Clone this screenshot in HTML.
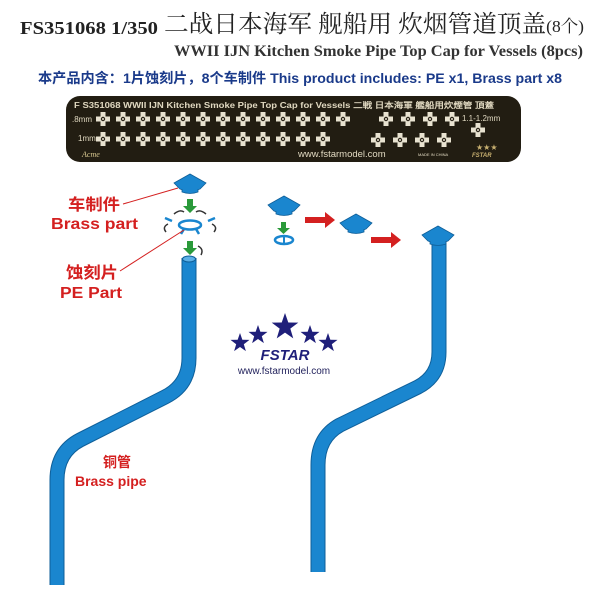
<!DOCTYPE html>
<html><head><meta charset="utf-8"><style>
body{margin:0;width:600px;height:600px;background:#fff;overflow:hidden}
svg{display:block}
</style></head><body>
<svg width="600" height="600" viewBox="0 0 600 600" xmlns="http://www.w3.org/2000/svg">
<defs>
<g id="cr"><path d="M-2.5,-7h5v4.5h4.5v5h-4.5v4.5h-5v-4.5h-4.5v-5h4.5z" fill="#e8e2d0"/><circle r="2.2" fill="#2a2418"/><circle r="1" fill="#e8e2d0"/></g>
<g id="cap"><path d="M-16,0 L0,-9 L16,0 L10,6 Q0,10 -10,6 Z" fill="#1a86cf" stroke="#0f5f99" stroke-width="0.8"/><path d="M-8,6 L-8,9 Q0,12 8,9 L8,6" fill="#1a86cf" stroke="#0f5f99" stroke-width="0.8"/></g>
<g id="star"><path d="M0,-10 L2.35,-3.2 9.5,-3.1 3.8,1.2 5.9,8.1 0,4 -5.9,8.1 -3.8,1.2 -9.5,-3.1 -2.35,-3.2Z" fill="#1f1f7a"/></g>
</defs>
<text x="20" y="34" textLength="138" lengthAdjust="spacingAndGlyphs" font-family="Liberation Serif,serif" font-weight="bold" font-size="18" fill="#222">FS351068 1/350</text>
<text x="164" y="32" textLength="420" lengthAdjust="spacingAndGlyphs" font-family="Liberation Serif,'Noto Serif CJK SC',serif" font-size="24" fill="#222">二战日本海军 舰船用 炊烟管道顶盖<tspan font-size="17">(8个)</tspan></text>
<text x="174" y="56" textLength="409" lengthAdjust="spacingAndGlyphs" font-family="Liberation Serif,serif" font-weight="bold" font-size="16" fill="#333">WWII IJN Kitchen Smoke Pipe Top Cap for Vessels (8pcs)</text>
<text x="38" y="83" textLength="524" lengthAdjust="spacingAndGlyphs" font-family="Liberation Sans,'Noto Sans CJK SC',sans-serif" font-weight="bold" font-size="14" fill="#1a3a8a">本产品内含：1片蚀刻片，8个车制件 This product includes: PE x1, Brass part x8</text>
<rect x="66" y="96" width="455" height="66" rx="14" fill="#221d12"/>
<text x="74" y="108" textLength="420" lengthAdjust="spacingAndGlyphs" font-family="Liberation Sans,sans-serif" font-weight="bold" font-size="8" fill="#e0d8c0">F S351068 WWII IJN Kitchen Smoke Pipe Top Cap for Vessels 二戦 日本海軍 艦船用炊煙管 頂蓋</text>
<text x="72" y="122" font-family="Liberation Sans,sans-serif" font-size="8" fill="#e0d8c0">.8mm</text>
<text x="78" y="141" font-family="Liberation Sans,sans-serif" font-size="8" fill="#e0d8c0">1mm</text>
<g>
<use href="#cr" x="103" y="119"/><use href="#cr" x="123" y="119"/><use href="#cr" x="143" y="119"/><use href="#cr" x="163" y="119"/><use href="#cr" x="183" y="119"/><use href="#cr" x="203" y="119"/><use href="#cr" x="223" y="119"/><use href="#cr" x="243" y="119"/><use href="#cr" x="263" y="119"/><use href="#cr" x="283" y="119"/><use href="#cr" x="303" y="119"/><use href="#cr" x="323" y="119"/><use href="#cr" x="343" y="119"/>
<use href="#cr" x="386" y="119"/><use href="#cr" x="408" y="119"/><use href="#cr" x="430" y="119"/><use href="#cr" x="452" y="119"/>
<use href="#cr" x="103" y="139"/><use href="#cr" x="123" y="139"/><use href="#cr" x="143" y="139"/><use href="#cr" x="163" y="139"/><use href="#cr" x="183" y="139"/><use href="#cr" x="203" y="139"/><use href="#cr" x="223" y="139"/><use href="#cr" x="243" y="139"/><use href="#cr" x="263" y="139"/><use href="#cr" x="283" y="139"/><use href="#cr" x="303" y="139"/><use href="#cr" x="323" y="139"/>
<use href="#cr" x="378" y="140"/><use href="#cr" x="400" y="140"/><use href="#cr" x="422" y="140"/><use href="#cr" x="444" y="140"/>
<use href="#cr" x="478" y="130"/>
</g>
<text x="462" y="121" font-family="Liberation Sans,sans-serif" font-size="8" fill="#e0d8c0">1.1-1.2mm</text>
<text x="82" y="157" font-family="Liberation Serif,serif" font-style="italic" font-size="8" fill="#d8c890">Acme</text>
<text x="298" y="157" font-family="Liberation Sans,sans-serif" font-size="9.5" fill="#e0d8c0">www.fstarmodel.com</text>
<text x="418" y="156" font-family="Liberation Sans,sans-serif" font-size="4" fill="#e0d8c0">MADE IN CHINA</text>
<text x="472" y="157" font-family="Liberation Sans,sans-serif" font-style="italic" font-weight="bold" font-size="6" fill="#c8b070">FSTAR</text>
<text x="476" y="150" font-size="8" fill="#c8b070">★★★</text>

<path d="M189,258 L189,358 Q189,385 165,397 L80,440 Q57,452 57,480 L57,585" fill="none" stroke="#0f5f99" stroke-width="15" stroke-linejoin="round"/>
<path d="M189,258 L189,358 Q189,385 165,397 L80,440 Q57,452 57,480 L57,585" fill="none" stroke="#1a86cf" stroke-width="13"/>
<ellipse cx="189" cy="259" rx="6.5" ry="3" fill="#5bb0e6" stroke="#0f5f99" stroke-width="1"/>
<path d="M439,240 L439,352 Q439,376 418,387 L340,425 Q318,437 318,465 L318,572" fill="none" stroke="#0f5f99" stroke-width="15"/>
<path d="M439,240 L439,352 Q439,376 418,387 L340,425 Q318,437 318,465 L318,572" fill="none" stroke="#1a86cf" stroke-width="13"/>
<use href="#cap" x="438" y="235"/>
<use href="#cap" x="190" y="183"/>
<path d="M187,199h6v7h4l-7,7l-7,-7h4z" fill="#2a9a3a"/>
<path d="M187,241h6v7h4l-7,7l-7,-7h4z" fill="#2a9a3a"/>
<ellipse cx="190" cy="225" rx="11" ry="4.5" fill="none" stroke="#1a86cf" stroke-width="2.5"/>
<path d="M172,221l-7,-3M208,221l7,-3M184,229l-3,5M196,229l3,5" stroke="#1a86cf" stroke-width="2.5"/>
<g fill="none" stroke="#333" stroke-width="1.5">
<path d="M174,214 q6,-5 10,-2"/><path d="M206,214 q-6,-5 -10,-2"/><path d="M166,232 q-4,-5 2,-8"/><path d="M214,232 q4,-5 -2,-8"/><path d="M198,246 q6,3 3,9"/>
</g>
<line x1="123" y1="204" x2="178" y2="188" stroke="#d42020" stroke-width="1"/>
<line x1="120" y1="271" x2="184" y2="230" stroke="#d42020" stroke-width="1"/>
<g font-family="Liberation Sans,'Noto Sans CJK SC',sans-serif" font-weight="bold" fill="#d42020">
<text x="68" y="210" textLength="52" lengthAdjust="spacingAndGlyphs" font-size="16">车制件</text>
<text x="51" y="229" textLength="87" lengthAdjust="spacingAndGlyphs" font-size="16">Brass part</text>
<text x="66" y="278" textLength="52" lengthAdjust="spacingAndGlyphs" font-size="16">蚀刻片</text>
<text x="60" y="298" textLength="62" lengthAdjust="spacingAndGlyphs" font-size="16">PE Part</text>
<text x="103" y="467" font-size="14">铜管</text>
<text x="75" y="486" font-size="14">Brass pipe</text>
</g>
<use href="#cap" x="284" y="205"/>
<path d="M281,222h5v6h4l-6.5,6l-6.5,-6h4z" fill="#2a9a3a"/>
<ellipse cx="284" cy="240" rx="9" ry="4" fill="none" stroke="#1a86cf" stroke-width="2.5"/>
<path d="M284,236v8" stroke="#1a86cf" stroke-width="2"/>
<path d="M305,217h20v-5l10,8l-10,8v-5h-20z" fill="#d42020"/>
<path d="M371,237h20v-5l10,8l-10,8v-5h-20z" fill="#d42020"/>
<use href="#cap" x="356" y="223"/>
<use href="#star" x="240" y="343"/>
<use href="#star" x="258" y="335"/>
<g transform="translate(285,327) scale(1.4)"><use href="#star"/></g>
<use href="#star" x="310" y="335"/>
<use href="#star" x="328" y="343"/>
<text x="285" y="360" text-anchor="middle" font-family="Liberation Sans,sans-serif" font-style="italic" font-weight="bold" font-size="15" fill="#1f1f7a">FSTAR</text>
<text x="284" y="374" text-anchor="middle" font-family="Liberation Sans,sans-serif" font-size="10" fill="#1f1f5a">www.fstarmodel.com</text>
</svg>
</body></html>
